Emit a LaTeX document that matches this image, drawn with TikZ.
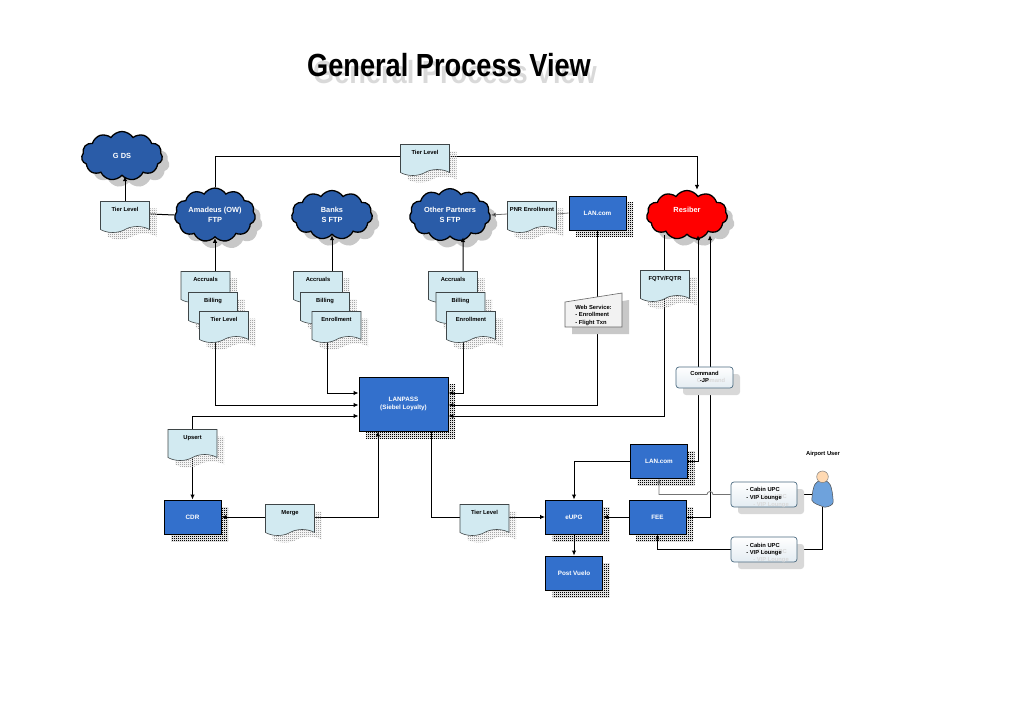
\documentclass[tikz,border=0pt]{standalone}
\usepackage{fontspec}
\setmainfont{Liberation Sans}
\newfontfamily\titlefont[FakeStretch=0.85]{Liberation Sans}
\usetikzlibrary{shapes.symbols,shapes.geometric,shadows,patterns,calc,arrows.meta}

\definecolor{cloudblue}{HTML}{2A5CA8}
\definecolor{boxblue}{HTML}{3370CC}
\definecolor{docblue}{HTML}{D2EAF1}
\definecolor{notefill}{HTML}{F2F2F2}
\definecolor{notedraw}{HTML}{4A6A80}
\definecolor{notetint}{HTML}{E4ECF2}
\definecolor{shadegray}{HTML}{C8C8C8}
\definecolor{notegray}{HTML}{D8D8D8}

\pgfdeclarelayer{front}
\pgfsetlayers{main,front}

\pgfdeclarepatternformonly{finedots}{\pgfqpoint{0pt}{0pt}}{\pgfqpoint{2pt}{2pt}}{\pgfqpoint{2pt}{2pt}}{
	\pgfpathrectangle{\pgfqpoint{0pt}{0pt}}{\pgfqpoint{1.3pt}{1.3pt}}
	\pgfpathrectangle{\pgfqpoint{1pt}{1pt}}{\pgfqpoint{1pt}{1pt}}
	\pgfusepath{fill}
}

\tikzset{
	CloudNode/.style={
		shape=cloud, cloud puffs=11, cloud puff arc=115, aspect=1.7,
		draw, line width=1.3pt, fill=cloudblue, text=white,
		inner sep=0pt, minimum width=81pt, minimum height=49pt,
		font=\fontsize{7.4}{10}\selectfont\bfseries, align=center,
		drop shadow={shadow xshift=7pt, shadow yshift=-7pt, fill=shadegray, opacity=1}},
	BoxNode/.style={
		draw, line width=0.9pt, fill=boxblue, text=white,
		inner sep=0pt, minimum width=57pt, minimum height=34pt,
		font=\fontsize{6.3}{8}\selectfont\bfseries, align=center,
		general shadow={shadow xshift=7pt, shadow yshift=-7pt, pattern=finedots, pattern color=black}},
	DocNode/.style={
		shape=tape, tape bend top=none, tape bend bottom=in and out, tape bend height=6pt,
		draw=black!70!docblue, line width=0.6pt, fill=docblue,
		inner sep=0pt, minimum width=49pt, minimum height=31pt,
		font=\fontsize{5.8}{7}\selectfont\bfseries, align=center,
		general shadow={shadow xshift=7pt, shadow yshift=-7pt, pattern=finedots, pattern color=black!35}},
	NoteNode/.style={
		draw=notedraw, rounded corners=3pt, line width=0.7pt, top color=white, bottom color=notetint,
		inner sep=0pt,
		drop shadow={shadow xshift=7pt, shadow yshift=-7pt, fill=notegray, opacity=1}},
	NoteText/.style={font=\fontsize{5.8}{7.8}\selectfont\bfseries, align=left, inner sep=0pt},
	GhostText/.style={NoteText, text=black!15},
	Flow/.style={line width=1pt, -{Latex[length=5pt,width=4.5pt]}},
	Link/.style={line width=1pt},
	PaleFlow/.style={line width=0.8pt, draw=black!55, -{Latex[length=5pt,width=4.5pt,fill=black]}},
}

\begin{document}
\begin{tikzpicture}[x=1pt,y=-1pt]
	\useasboundingbox (0,0) rectangle (1017,719);

	% Title
	\node[text=black!15,font=\fontsize{32}{36}\titlefont\bfseries] (titleshade) at (455,72) {General Process View};
	\node[font=\fontsize{32}{36}\titlefont\bfseries] (title) at (449,65) {General Process View};

	% Clouds
	\node[CloudNode] (gds) at (122,156) {G DS};
	\node[CloudNode] (amadeus) at (215,215) {Amadeus (OW)\\FTP};
	\node[CloudNode] (banks) at (332,215) {Banks\\S FTP};
	\node[CloudNode] (partners) at (450,215) {Other Partners\\S FTP};
	\node[CloudNode,fill=red] (resiber) at (687,215) {Resiber\\\ };

	% Blocks
	\node[BoxNode] (lantop) at (597.5,213) {LAN.com};
	\node[BoxNode,minimum width=89pt,minimum height=54pt] (lanpass) at (403.5,404) {LANPASS\\(Siebel Loyalty)};
	\node[BoxNode] (cdr) at (192.5,517) {CDR};
	\node[BoxNode] (eupg) at (574,517) {eUPG};
	\node[BoxNode] (postvuelo) at (574,573) {Post Vuelo};
	\node[BoxNode] (fee) at (657.5,517) {FEE};
	\node[BoxNode] (lanlow) at (659,461) {LAN.com};

	% Documents
	\begin{pgfonlayer}{front}
		\node[DocNode] (tiergds) at (125,214) {Tier Level\\[2pt]\ };
		\node[DocNode] (tiertop) at (425,157) {Tier Level\\[2pt]\ };
		\node[DocNode] (pnr) at (532,214) {PNR Enrollment\\[2pt]\ };
		\node[DocNode] (fqtv) at (665,283) {FQTV/FQTR\\[2pt]\ };

		\node[DocNode] (accrualsa) at (205.5,284) {Accruals\\[2pt]\ };
		\node[DocNode] (billinga) at (213,305) {Billing\\[2pt]\ };
		\node[DocNode] (tiera) at (224,324) {Tier Level\\[2pt]\ };

		\node[DocNode] (accrualsb) at (318,284) {Accruals\\[2pt]\ };
		\node[DocNode] (billingb) at (325,305) {Billing\\[2pt]\ };
		\node[DocNode] (enrollb) at (336.5,324) {Enrollment\\[2pt]\ };

		\node[DocNode] (accrualsc) at (453,284) {Accruals\\[2pt]\ };
		\node[DocNode] (billingc) at (460.5,305) {Billing\\[2pt]\ };
		\node[DocNode] (enrollc) at (471,324) {Enrollment\\[2pt]\ };

		\node[DocNode] (upsert) at (192.5,442) {Upsert\\[2pt]\ };
		\node[DocNode] (merge) at (290,517) {Merge\\[2pt]\ };
		\node[DocNode] (tierlow) at (484.5,517) {Tier Level\\[2pt]\ };

		% Web service note
		\fill[shadegray] (572,309) -- (629,300) -- (629,334) -- (572,334) -- cycle;
		\draw[fill=notefill,draw=black!60,line width=0.6pt] (565,302) -- (622,293) -- (622,327) -- (565,327) -- cycle;
		\node[NoteText] (web) at (593.5,315.5) {Web Service:\\ - Enrollment\\ - Flight Txn};

		\node[NoteNode,minimum width=57pt,minimum height=21pt] (command) at (704.5,377.5) {};
		\node[GhostText] (commandghost) at (711,380.5) {Command};
		\node[NoteText,align=center] (commandtext) at (704.5,377) {Command\\-JP};
		\node[NoteNode,minimum width=66pt,minimum height=25pt] (cabina) at (764,494.5) {};
		\node[GhostText] (cabinaghost) at (771,501) {- Cabin UPC\\- VIP Lounge};
		\node[NoteText] (cabinatext) at (764,494) {- Cabin UPC\\- VIP Lounge};
		\node[NoteNode,minimum width=66pt,minimum height=25pt] (cabinb) at (764,549.5) {};
		\node[GhostText] (cabinbghost) at (771,556) {- Cabin UPC\\- VIP Lounge};
		\node[NoteText] (cabinbtext) at (764,549.5) {- Cabin UPC\\- VIP Lounge};

		% Airport user
		\node[font=\fontsize{5.8}{7}\selectfont\bfseries,inner sep=0pt] (usertext) at (823,454) {Airport User};
		\node[minimum width=21pt,minimum height=36pt,inner sep=0pt] (user) at (822.5,489) {};
		\fill[fill=cyan!45!white!75!blue,draw=black!70,line width=.5pt]
			($(user.south west)+(0,-7)$) .. controls ($(user.west)+(1,-6)$) and ($(user.center)+(-6,-8)$) .. ($(user.center)+(-2,-8)$)
			-- ($(user.center)+(2,-8)$)
			.. controls ($(user.center)+(6,-8)$) and ($(user.east)+(-1,-6)$) .. ($(user.south east)+(0,-5)$)
			.. controls ($(user.south east)+(0,-2)$) and ($(user.south)+(5,0)$) .. ($(user.south)+(2,0)$)
			.. controls ($(user.south)+(-3,-2)$) and ($(user.south west)+(2,-3)$) .. cycle;
		\draw[fill=orange!30,draw=black!50,line width=.5pt] ($(user.north)+(0,6)$) circle (5.8);
	\end{pgfonlayer}

	% Arrows
	\draw[Flow] (tiergds.north) -- (tiergds.north |- gds.south);
	\draw[Link] (amadeus.west) -- (tiergds.east);
	\draw[Link] (amadeus.north) |- (tiertop.west);
	\draw[Flow] (tiertop.east) -| ($(resiber.north)+(10,0)$);
	\draw[Flow] (accrualsa.north -| amadeus.south) -- (amadeus.south);
	\draw[Flow] (accrualsb.north -| banks.south) -- (banks.south);
	\draw[Flow] ($(accrualsc.north)+(10,0)$) -- ($(partners.south)+(13,0)$);
	\draw[PaleFlow] (pnr.west) -- (partners.east);
	\draw[PaleFlow,-] (lantop.west) -- (pnr.east);

	\draw[Flow] (tiera.south -| amadeus.south) |- ($(lanpass.west)+(0,1)$);
	\draw[Flow] (enrollb.south -| 327,0) |- ($(lanpass.west)+(0,-11)$);
	\draw[Flow] (upsert.north) |- ($(lanpass.west)+(0,12)$);
	\draw[Flow] (upsert.south) -- (cdr.north);
	\draw[Flow] ($(enrollc.south)+(-8,0)$) |- ($(lanpass.east)+(0,-11)$);
	\draw[Flow] (lantop.south) |- ($(lanpass.east)+(0,1)$);
	\draw[Flow] ($(resiber.south)+(-23,0)$) |- ($(lanpass.east)+(0,12)$);

	\draw[Flow] (lanlow.east) -| ($(resiber.south)+(11,0)$);
	\draw[Flow] (fee.east) -| ($(resiber.south)+(23,0)$);

	\draw[Flow] (merge.west) -- (cdr.east);
	\draw[Flow] (merge.east) -| ($(lanpass.south)+(-25.5,0)$);
	\draw[Link] ($(lanpass.south)+(28,0)$) |- (tierlow.west);
	\draw[Flow] (tierlow.east) -- (eupg.west);
	\draw[Flow] (lanlow.west) -| (eupg.north);
	\draw[Flow] (fee.west) -- (eupg.east);
	\draw[Flow] (eupg.south) -- (postvuelo.north);

	\coordinate (jump) at (cabina.west -| 710,0);
	\draw[PaleFlow] (cabina.west) -- ($(jump)+(3,0)$) arc[start angle=0,end angle=-180,radius=3] -| (lanlow.south);
	\draw[Link] (cabina.east) -- (cabina.east -| user.west);
	\draw[Link] (cabinb.east) -| (user.south);
	\draw[Flow] (cabinb.west) -| (fee.south);
\end{tikzpicture}
\end{document}
